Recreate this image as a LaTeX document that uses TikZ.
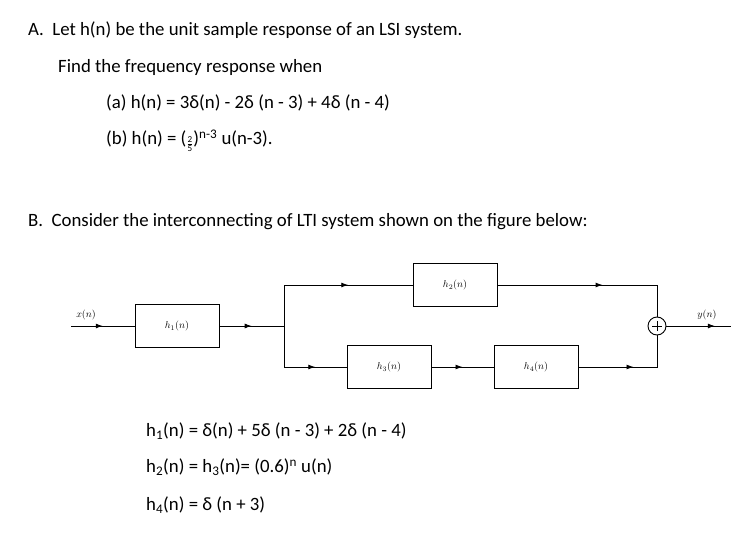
\documentclass[tikz,border=0pt]{standalone}
\usepackage{fontspec}
\setmainfont{Carlito}
\newfontfamily\ser{Liberation Serif}
\usetikzlibrary{arrows.meta,decorations.markings}
\begin{document}
\begin{tikzpicture}[x=1pt,y=-1pt,
  txt/.style={anchor=west,inner sep=0pt,font=\fontsize{18.8}{20}\selectfont},
  blk/.style={draw,line width=0.9pt,minimum width=84pt,minimum height=43pt,inner sep=0pt,font=\fontsize{10}{11}\selectfont},
  lab/.style={inner sep=0pt,font=\fontsize{10}{11}\selectfont},
  ln/.style={line width=0.9pt},
  mid/.style={postaction={decorate},decoration={markings,mark=at position #1 with {\arrow{Latex[length=7pt,width=5pt]}}}}]
\useasboundingbox (0,0) rectangle (740,533);
\node[txt] (tA) at (28,30) {A.\ \ Let h(n) be the unit sample response of an LSI system.};
\node[txt] (tF) at (58,67) {Find the frequency response when};
\node[txt] (ta) at (106,103) {(a) h(n) = 3δ(n) - 2δ (n - 3) + 4δ (n - 4)};
\node[txt] (tb) at (106,141) {(b) h(n) = (\raisebox{-0.3ex}{\fontsize{13}{13}\selectfont$\frac{\mathrm{2}}{\mathrm{5}}$})\textsuperscript{n-3} u(n-3).};
\node[txt] (tB) at (28,222) {B.\ \ Consider the interconnecting of LTI system shown on the figure below:};
\node[txt] (t1) at (146,431) {h\textsubscript{1}(n) = δ(n) + 5δ (n - 3) + 2δ (n - 4)};
\node[txt] (t2) at (146,467) {h\textsubscript{2}(n) = h\textsubscript{3}(n)= (0.6)\textsuperscript{n} u(n)};
\node[txt] (t4) at (146,505) {h\textsubscript{4}(n) = δ (n + 3)};
% diagram
\coordinate (in) at (71,326);
\node[blk] (h1) at (177,326) {$h_1(n)$};
\coordinate (br) at (284,326);
\coordinate (bt) at (284,285);
\coordinate (bb) at (284,367);
\node[blk] (h2) at (455,285) {$h_2(n)$};
\node[blk] (h3) at (389,367) {$h_3(n)$};
\node[blk] (h4) at (536,367) {$h_4(n)$};
\node[draw,circle,line width=0.9pt,minimum size=18pt,inner sep=0pt] (s) at (657,326) {};
\draw[line width=0.8pt] ([yshift=-5pt]s.center) -- ([yshift=5pt]s.center) ([xshift=-5pt]s.center) -- ([xshift=5pt]s.center);
\coordinate (rt) at (657,285);
\coordinate (rb) at (657,367);
\coordinate (out) at (731,326);
\node[lab] (lx) at (86,315) {$x(n)$};
\node[lab] (ly) at (707,315) {$y(n)$};
\draw[ln,mid=0.5] (in) -- (h1.west);
\draw[ln,mid=0.5] (h1.east) -- (br);
\draw[ln] (bb) -- (bt);
\draw[ln,mid=0.5] (bt) -- (h2.west);
\draw[ln,mid=0.55] (h2.east) -- (rt) -- (s.north);
\draw[ln,mid=0.5] (bb) -- (h3.west);
\draw[ln,mid=0.5] (h3.east) -- (h4.west);
\draw[ln,mid=0.5] (h4.east) -- (rb) -- (s.south);
\draw[ln,mid=0.75] (s.east) -- (out);
\end{tikzpicture}
\end{document}
